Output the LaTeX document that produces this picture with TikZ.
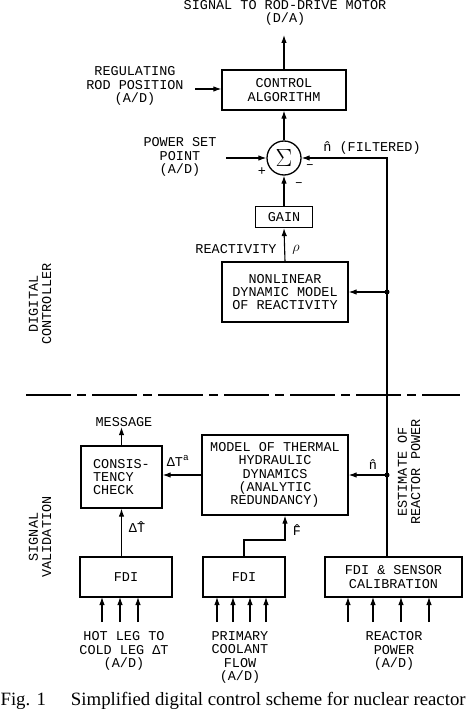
\documentclass[tikz,border=0pt]{standalone}
\usepackage{fontspec}
\setmainfont{Liberation Serif}
\newfontfamily\diagfont{Liberation Mono}
\usetikzlibrary{arrows.meta,positioning}
\begin{document}
\begin{tikzpicture}[x=1pt, y=-1pt, line width=1.1pt, >={Latex[length=8pt,width=5.5pt]},
  every node/.style={font=\diagfont\fontsize{13.5}{13.2}\selectfont, align=center, inner sep=0pt},
  block/.style={draw, line width=1.3pt},
  tap/.style={circle, fill, minimum size=5pt},
  dashpat/.style={line width=1.3pt, dash pattern=on 45pt off 6pt on 9pt off 6pt}]
\useasboundingbox (0,0) rectangle (474,711);
% controller blocks
\node[block, minimum width=124pt, minimum height=40pt] (ctrl) at (284,90) {CONTROL\\ALGORITHM};
\node[draw, circle, line width=1.3pt, minimum size=34pt] (sum) at (284,158) {\fontsize{26}{26}\selectfont$\Sigma$};
\node[block, minimum width=57pt, minimum height=21pt] (gain) at (284,217) {GAIN};
\node[block, minimum width=126pt, minimum height=60pt] (nonlin) at (285,292) {NONLINEAR\\DYNAMIC MODEL\\OF REACTIVITY};
% validation blocks
\node[block, minimum width=81pt, minimum height=62pt, align=left] (consis) at (121.5,477) {CONSIS-\\TENCY\\CHECK};
\node[block, minimum width=146pt, minimum height=80pt] (model) at (275,475) {MODEL OF THERMAL\\HYDRAULIC\\DYNAMICS\\(ANALYTIC\\REDUNDANCY)};
\node[block, minimum width=92pt, minimum height=40pt] (fdiA) at (126,577) {FDI};
\node[block, minimum width=82pt, minimum height=40pt] (fdiB) at (244,577) {FDI};
\node[block, minimum width=137pt, minimum height=40pt] (fdiC) at (393.5,577) {FDI \& SENSOR\\CALIBRATION};
% texts
\node (motor) at (285,13) {SIGNAL TO ROD-DRIVE MOTOR\\(D/A)};
\node (rod) at (135,86) {REGULATING\\ROD POSITION\\(A/D)};
\node (psp) at (180,157) {POWER SET\\POINT\\(A/D)};
\node (filt) at (372,148) {\^{n} (FILTERED)};
\node (plus) at (262,172) {+};
\node (minA) at (310,167) {\textendash};
\node (minB) at (299,185) {\textendash};
\node (react) at (236,249) {REACTIVITY};
\node (rho) at (296,250) {$\rho$};
\node[rotate=90] (dig) at (40,304) {DIGITAL\\CONTROLLER};
\node[rotate=90] (sigval) at (40,537) {SIGNAL\\VALIDATION};
\node (msg) at (124,422) {MESSAGE};
\node (dta) at (178,461) {ΔT\textsuperscript{a}};
\node (nhat) at (373,465) {\^{n}};
\node[rotate=90] (est) at (409,472) {ESTIMATE OF\\REACTOR POWER};
\node (dthat) at (137,527) {Δ\^{T}};
\node (fhat) at (297,530) {\^{F}};
\node (hot) at (124,651) {HOT LEG TO\\COLD LEG ΔT\\(A/D)};
\node (pcf) at (240,657.5) {PRIMARY\\COOLANT\\FLOW\\(A/D)};
\node (rp) at (394,651) {REACTOR\\POWER\\(A/D)};
\node[anchor=base west, font=\fontsize{18.8}{20}\selectfont] (cap) at (0,705) {Fig. 1\hspace{25pt}Simplified digital control scheme for nuclear reactor};
% coordinates
\coordinate (out) at (284,35);
\coordinate (rodin) at (195,89);
\coordinate (pspin) at (226,158);
\coordinate (bustop) at (387,158);
\coordinate (busbot) at (387,557);
\coordinate (tapA) at (387,292);
\coordinate (tapB) at (387,475);
\coordinate (fin) at (285,540);
% connectors
\draw[->] (ctrl.north) -- (out);
\draw[->] (rodin) -- (ctrl.west |- rodin);
\draw[->] (sum.north) -- (ctrl.south);
\draw[->] (pspin) -- (sum.west);
\draw[->] (busbot) -- (bustop) -- (sum.east);
\draw[->] (gain.north) -- (sum.south);
\draw[->] (nonlin.north) -- (gain.south);
\draw[->] (tapA) -- (nonlin.east);
\node[tap] at (tapA) {};
\draw[dashpat] (26,395) -- (460,395);
\draw[->] (consis.north) -- (consis.north |- msg.south);
\draw[->] (model.west) -- (model.west -| consis.east);
\draw[->] (tapB) -- (model.east);
\node[tap] at (tapB) {};
\draw[->] (consis.south |- fdiA.north) -- (consis.south);
\draw[->] (fdiB.north) |- (fin) -- (fin |- model.south);
% sensor inputs
\foreach \x in {102,120,138}
  \draw[->] (\x,622) -- (\x,597);
\foreach \x in {217,233,250,266}
  \draw[->] (\x,622) -- (\x,597);
\foreach \x in {348,373,401,429}
  \draw[->] (\x,622) -- (\x,597);
\end{tikzpicture}
\end{document}
